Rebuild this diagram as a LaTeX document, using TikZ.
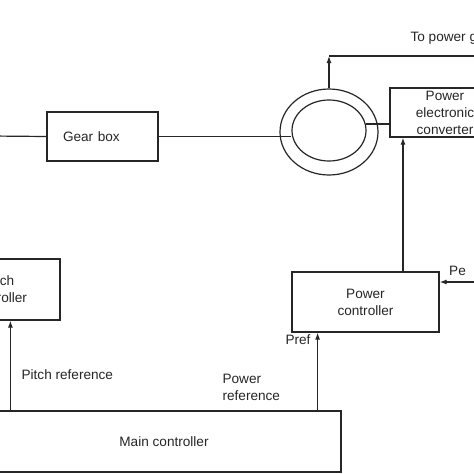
\documentclass[tikz,border=0pt]{standalone}
\usepackage{fontspec}
\setmainfont{Liberation Sans}
\usetikzlibrary{arrows.meta,shapes.geometric}
\tikzset{
  blk/.style={draw, rectangle, align=center, inner sep=0pt},
  ring/.style={draw, ellipse, inner sep=0pt},
  arr/.style={-{Latex[length=7pt,width=5pt]}},
  lbl/.style={inner sep=0pt}
}
\begin{document}
\begin{tikzpicture}[x=1pt, y=-1pt, line width=1.2pt, draw=black!85,
    every node/.style={font=\fontsize{13.6}{17}\selectfont, text=black!85}]
  \useasboundingbox (0,0) rectangle (474,474);
  \fill[white] (0,0) rectangle (474,474);
  \clip (0,0) rectangle (474,474);

  % 方框
  \node[blk, minimum width=111pt, minimum height=49pt, text width=79pt, inner xsep=16pt, align=left] (gear) at (102.5,136.5) {Gear box};
  \node[ring, minimum width=98pt, minimum height=86pt] (genout) at (329,132) {};
  \node[ring, minimum width=74pt, minimum height=61pt] (genin) at (329,130.5) {};
  \node[blk, minimum width=110pt, minimum height=49pt] (conv) at (445,112.5) {Power\\electronic\\converter};
  \node[blk, minimum width=147pt, minimum height=60pt] (pc) at (365.5,302) {Power\\controller};
  \node[blk, minimum width=122pt, minimum height=61pt] (pitch) at (-1,289.5) {Pitch\\controller};
  \node[blk, minimum width=354pt, minimum height=61pt] (main) at (164,441.5) {Main controller};

  \coordinate (shaft) at (-10,136);
  \coordinate (tee) at (329,56);
  \coordinate (grid) at (490,56);
  \coordinate (pein) at (490,282);

  % 连线
  \draw (shaft) -- (gear.west);
  \draw (gear.east) -- (gear.east -| genin.west);
  \draw (genin.10) -- (genin.10 -| conv.west);
  \draw[arr] (genout.north) -- (tee);
  \draw (tee) -- (grid);
  \draw[arr] ([xshift=37.5pt]pc.north) -- ([xshift=37.5pt]pc.north |- conv.south);
  \draw[arr] (pein) -- (pein -| pc.east);
  \draw[arr] ([xshift=24pt]main.north west) -- ([xshift=24pt]main.north west |- pitch.south);
  \draw[arr] ([xshift=-24pt]main.north east) -- ([xshift=-24pt]main.north east |- pc.south);

  % 标注
  \node[lbl, anchor=west] (togrid) at (410,38) {To power grid};
  \node[lbl] (pe) at (457.5,271) {Pe};
  \node[lbl] (pref) at (298,340) {Pref};
  \node[lbl, anchor=west] (pitchref) at (21,375) {Pitch reference};
  \node[lbl, anchor=west, align=left] (powref) at (222,387) {Power\\reference};
\end{tikzpicture}
\end{document}
